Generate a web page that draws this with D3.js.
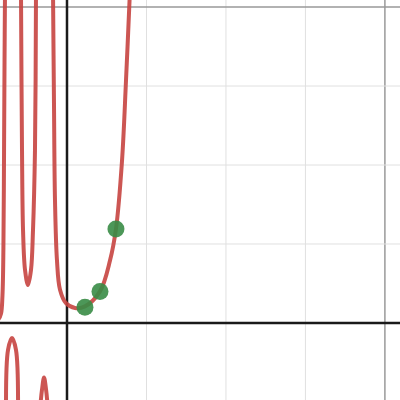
<!DOCTYPE html>
<html><head><meta charset="utf-8">
<script src="https://cdn.jsdelivr.net/npm/d3@7"></script>
<style>body{margin:0;background:#fff}</style>
</head><body>
<script>
// curve pieces (graph units)
var pieceA = [[-0.78,4.2],[-0.786,3.3],[-0.792,2.2],[-0.80,0.95],[-0.812,0.35],[-0.83,0.12],[-0.86,0.05],[-0.9,0.04]];
var pieceB = [[-0.579,4.2],[-0.566,2.18],[-0.553,1.17],[-0.528,0.67],[-0.491,0.48],[-0.453,0.67],[-0.428,1.17],[-0.403,2.18],[-0.390,4.2]];
var pieceC = [[-0.176,4.2],[-0.164,2.81],[-0.151,1.55],[-0.126,0.79],[-0.088,0.42],[-0.013,0.25],[0.101,0.19],[0.226,0.21],[0.415,0.40],[0.541,0.79],[0.616,1.19],[0.692,2.05],[0.742,3.06],[0.792,4.2]];
var pieceD = [[-0.767,-1.1],[-0.742,-0.34],[-0.692,-0.19],[-0.642,-0.34],[-0.616,-1.1]];
var pieceE = [[-0.340,-1.1],[-0.314,-0.84],[-0.289,-0.69],[-0.264,-0.84],[-0.239,-1.1]];
var points = [[0.226,0.20],[0.415,0.40],[0.616,1.19]];
var gridTicks = [-1,0,1,2,3,4,5];

var width = 400, height = 400;
var x = d3.scaleLinear().domain([-0.843, 4.19]).range([0, width]);
var y = d3.scaleLinear().domain([4.089, -0.975]).range([0, height]);

var svg = d3.select("body").append("svg")
  .attr("width", width).attr("height", height);

svg.selectAll(".vg").data(gridTicks).enter().append("line")
  .attr("x1", d => x(d)).attr("x2", d => x(d)).attr("y1", 0).attr("y2", height)
  .attr("stroke", d => d == 4 ? "#999" : "#e0e0e0").attr("stroke-width", d => d == 4 ? 1.5 : 1);
svg.selectAll(".hg").data(gridTicks).enter().append("line")
  .attr("y1", d => y(d)).attr("y2", d => y(d)).attr("x1", 0).attr("x2", width)
  .attr("stroke", d => d == 4 ? "#999" : "#e0e0e0").attr("stroke-width", d => d == 4 ? 1.5 : 1);

// axes
svg.append("line").attr("x1", x(0)).attr("x2", x(0)).attr("y1", 0).attr("y2", height)
  .attr("stroke", "#1a1a1a").attr("stroke-width", 2.5);
svg.append("line").attr("y1", y(0)).attr("y2", y(0)).attr("x1", 0).attr("x2", width)
  .attr("stroke", "#1a1a1a").attr("stroke-width", 2.5);

var line = d3.line().x(d => x(d[0])).y(d => y(d[1])).curve(d3.curveCatmullRom);

svg.selectAll(".curve").data([pieceA, pieceB, pieceC, pieceD, pieceE]).enter().append("path")
  .attr("d", line).attr("fill", "none")
  .attr("stroke", "#c74440").attr("stroke-width", 4).attr("stroke-opacity", 0.9);

svg.selectAll(".pt").data(points).enter().append("circle")
  .attr("cx", d => x(d[0])).attr("cy", d => y(d[1])).attr("r", 8.5)
  .attr("fill", "#388c46").attr("fill-opacity", 0.9);
</script>
</body></html>
